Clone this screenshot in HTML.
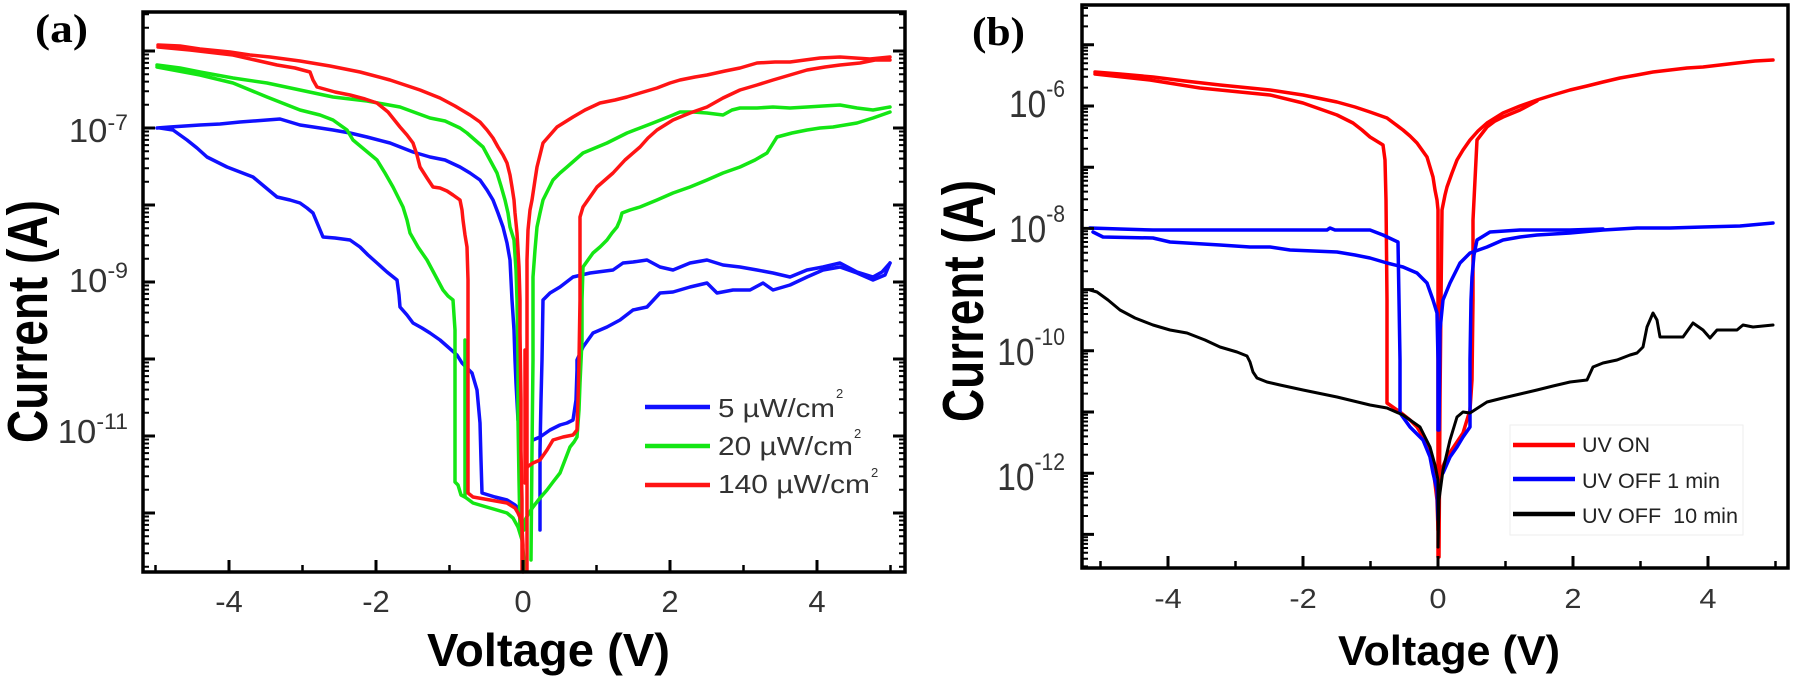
<!DOCTYPE html>
<html><head><meta charset="utf-8"><style>
html,body{margin:0;padding:0;background:#fff;}
svg{display:block;}
text{font-family:"Liberation Sans",Arial,sans-serif;}
</style></head><body>
<svg width="1816" height="684" viewBox="0 0 1816 684" xmlns="http://www.w3.org/2000/svg">
<rect width="1816" height="684" fill="#fff"/>

<!-- ================= PANEL A ================= -->
<g fill="none" stroke-linejoin="round" stroke-linecap="round">
<!-- blue -->
<g stroke="#1010ff" stroke-width="3.5">
<polyline points="157,128 170,127 185,126 200,125 220,124 240,122 267,120 280,119 300,125 320,128 333,130 350,133 367,137 390,143 413,152 430,157 445,160 460,167 470,173 480,180 487,190 493,200 498,213 503,227 507,243 510,260 511,280 512,300 514,330 515,360 516,383 518,420"/>
<polyline points="160,128 173,130 180,135 187,140 197,148 207,157 217,162 227,167 240,172 253,177 265,187 277,197 290,200 300,203 307,208 313,213 318,225 323,237 335,238 350,240 360,247 368,255 377,263 387,272 397,280 399,295 400,307 407,315 413,323 422,328 430,333 440,340 448,347 457,355 462,363 472,373 477,390 480,423 481,460 482,493 495,497 507,500 515,505 520,510"/>
<polyline points="540,530 540,450 541,400 542,360 543,300 550,293 560,287 573,277 590,273 613,270 623,263 633,262 647,260 660,267 673,270 690,263 707,260 723,265 740,267 757,270 773,273 790,277 807,270 823,267 840,263 857,272 873,277 882,272 890,263"/>
<polyline points="533,440 540,437 550,430 560,425 567,423 573,420 576,400 577,370 577,360 583,347 593,333 607,327 620,320 633,310 647,307 660,293 673,292 690,287 707,283 717,293 733,290 750,290 763,283 773,290 790,285 807,277 823,270 840,267 857,273 873,280 885,275 890,263"/>
<polyline points="517,340 518,383 520,430"/>
</g>
<!-- green -->
<g stroke="#14e614" stroke-width="3.5">
<polyline points="157,65 180,68 200,72 233,78 267,83 300,90 333,97 367,101 400,107 430,118 445,121 460,128 467,133 475,140 483,147 490,160 497,173 501,186 505,200 508,213 510,227 514,240 516,270 517,300 518,360 518,420 519,480 520,530"/>
<polyline points="157,67 200,75 233,83 267,97 300,110 320,115 333,120 347,130 353,140 365,150 377,160 385,173 393,187 398,197 403,207 407,220 410,233 418,247 427,260 435,275 443,290 448,296 453,300 455,330 455,360 455,420 455,482 458,485 461,495 465,497 473,503 490,508 507,513 513,518 518,527 522,540 525,570"/>
<polyline points="465,340 465,497"/>
<polyline points="531,560 532,450 533,360 533,300 533,277 535,250 537,227 540,213 543,200 548,190 553,180 560,173 567,167 575,160 583,153 595,148 607,143 617,138 627,133 640,128 653,123 663,119 673,115 680,112 693,112 707,113 715,114 723,115 732,110 740,108 757,108 773,107 790,108 807,107 823,106 840,105 857,108 873,110 890,107"/>
<polyline points="524,530 525,520 529,513 533,507 540,498 547,490 553,482 560,473 565,460 570,447 574,442 577,437 579,410 580,383 582,340 582,300 583,267 588,260 593,253 600,247 607,240 612,233 617,227 620,220 622,213 630,210 640,207 657,200 673,193 690,187 707,180 723,173 740,167 755,160 767,153 772,145 777,137 792,133 807,130 820,128 833,127 845,125 857,123 873,118 890,112"/>
</g>
<!-- red -->
<g stroke="#ff1414" stroke-width="3.5">
<polyline points="158,45 180,46 200,49 230,52 250,55 270,57 300,61 330,66 360,72 390,80 420,90 440,98 455,106 470,115 480,122 487,130 493,138 498,147 503,155 507,163 510,175 512,187 514,200 515,213 517,233 518,250 519,267 520,300 520,333 521,400 521,450 522,500 522,540 522,570"/>
<polyline points="527,570 527,480 527,400 527,333 527,260 528,230 530,210 532,200 535,180 537,167 540,155 543,143 550,135 557,127 565,122 573,117 585,110 600,103 615,100 627,97 640,93 657,88 670,83 680,80 695,77 707,75 725,71 740,68 757,63 775,62 790,62 805,60 820,58 840,57 855,58 870,59 890,57"/>
<polyline points="158,47 190,50 233,55 255,60 277,65 295,68 310,72 313,80 317,87 335,92 350,95 365,99 377,103 388,112 400,127 407,135 413,143 417,155 420,167 427,178 433,187 440,188 447,191 453,195 460,200 462,210 463,220 465,235 467,247 468,280 468,333 468,400 468,450 468,493 473,497 490,500 507,503 515,508 518,513 521,520 522,527 523,545 523,572"/>
<polyline points="525,350 525,483 527,467 533,463 540,460 547,450 553,440 563,437 573,435 577,430 578,400 579,360 580,300 580,217 583,207 590,197 597,187 605,180 613,173 625,160 640,147 648,138 657,130 665,125 673,120 690,113 707,107 723,98 740,90 757,85 773,80 790,75 807,70 825,67 840,65 860,63 875,60 890,60"/>
</g>
</g>

<!-- legend a -->
<g stroke-width="4.5">
<line x1="645" y1="407" x2="710" y2="407" stroke="#1010ff"/>
<line x1="645" y1="446" x2="710" y2="446" stroke="#14e614"/>
<line x1="645" y1="485" x2="710" y2="485" stroke="#ff1414"/>
</g>
<g fill="#333" font-size="26">
<text x="718" y="417" textLength="117" lengthAdjust="spacingAndGlyphs">5 µW/cm</text>
<text x="836" y="398" font-size="13">2</text>
<text x="718" y="455" textLength="135" lengthAdjust="spacingAndGlyphs">20 µW/cm</text>
<text x="854" y="438" font-size="13">2</text>
<text x="718" y="493" textLength="152" lengthAdjust="spacingAndGlyphs">140 µW/cm</text>
<text x="871" y="477" font-size="13">2</text>
</g>

<!-- frame a -->
<rect x="143" y="12" width="762" height="560" fill="none" stroke="#000" stroke-width="3.5"/>
<!-- y ticks a (left & right) -->
<path fill="none" stroke="#000" stroke-width="3" d="
M143 51h12M143 128h12M143 205h12M143 282h12M143 359h12M143 436h12M143 513h12
M905 51h-12M905 128h-12M905 205h-12M905 282h-12M905 359h-12M905 436h-12M905 513h-12"/>
<path fill="none" stroke="#000" stroke-width="2" d="
M143 566.8h6M143 553.3h6M143 543.6h6M143 536.2h6M143 530.1h6M143 524.9h6M143 520.5h6M143 516.5h6
M143 489.8h6M143 476.3h6M143 466.6h6M143 459.2h6M143 453.1h6M143 447.9h6M143 443.5h6M143 439.5h6
M143 412.8h6M143 399.3h6M143 389.6h6M143 382.2h6M143 376.1h6M143 370.9h6M143 366.5h6M143 362.5h6
M143 335.8h6M143 322.3h6M143 312.6h6M143 305.2h6M143 299.1h6M143 293.9h6M143 289.5h6M143 285.5h6
M143 258.8h6M143 245.3h6M143 235.6h6M143 228.2h6M143 222.1h6M143 216.9h6M143 212.5h6M143 208.5h6
M143 181.8h6M143 168.3h6M143 158.6h6M143 151.2h6M143 145.1h6M143 139.9h6M143 135.5h6M143 131.5h6
M143 104.8h6M143 91.3h6M143 81.6h6M143 74.2h6M143 68.1h6M143 62.9h6M143 58.5h6M143 54.5h6
M143 27.8h6M143 14.3h6
M905 566.8h-6M905 553.3h-6M905 543.6h-6M905 536.2h-6M905 530.1h-6M905 524.9h-6M905 520.5h-6M905 516.5h-6
M905 489.8h-6M905 476.3h-6M905 466.6h-6M905 459.2h-6M905 453.1h-6M905 447.9h-6M905 443.5h-6M905 439.5h-6
M905 412.8h-6M905 399.3h-6M905 389.6h-6M905 382.2h-6M905 376.1h-6M905 370.9h-6M905 366.5h-6M905 362.5h-6
M905 335.8h-6M905 322.3h-6M905 312.6h-6M905 305.2h-6M905 299.1h-6M905 293.9h-6M905 289.5h-6M905 285.5h-6
M905 258.8h-6M905 245.3h-6M905 235.6h-6M905 228.2h-6M905 222.1h-6M905 216.9h-6M905 212.5h-6M905 208.5h-6
M905 181.8h-6M905 168.3h-6M905 158.6h-6M905 151.2h-6M905 145.1h-6M905 139.9h-6M905 135.5h-6M905 131.5h-6
M905 104.8h-6M905 91.3h-6M905 81.6h-6M905 74.2h-6M905 68.1h-6M905 62.9h-6M905 58.5h-6M905 54.5h-6
M905 27.8h-6M905 14.3h-6"/>
<!-- x ticks a -->
<path fill="none" stroke="#000" stroke-width="3" d="M229 572v-12M376 572v-12M523 572v-12M670 572v-12M817 572v-12"/>
<path fill="none" stroke="#000" stroke-width="2.5" d="M155.5 572v-7M302.5 572v-7M449.5 572v-7M596.5 572v-7M743.5 572v-7M890.5 572v-7"/>

<!-- tick labels a -->
<g fill="#333" font-size="31" text-anchor="middle">
<text x="229" y="612">-4</text>
<text x="376" y="612">-2</text>
<text x="523" y="612">0</text>
<text x="670" y="612">2</text>
<text x="817" y="612">4</text>
</g>
<g fill="#333" text-anchor="end">
<text transform="translate(128,142) scale(1.05,1)" font-size="33">10<tspan font-size="22" dy="-12">-7</tspan></text>
<text transform="translate(128,292) scale(1.05,1)" font-size="33">10<tspan font-size="22" dy="-14">-9</tspan></text>
<text transform="translate(128,443) scale(1.05,1)" font-size="33">10<tspan font-size="22" dy="-14">-11</tspan></text>
</g>
<!-- axis titles a -->
<text x="427" y="666" font-size="46" font-weight="bold" textLength="243" lengthAdjust="spacingAndGlyphs" fill="#000">Voltage (V)</text>
<text transform="translate(47,443) rotate(-90) scale(1,1.22)" font-size="46" font-weight="bold" textLength="243" lengthAdjust="spacingAndGlyphs" fill="#000">Current (A)</text>
<text x="35" y="42" font-family="'Liberation Serif',serif" font-size="40" font-weight="bold" textLength="53" lengthAdjust="spacingAndGlyphs" fill="#000" style="font-family:'Liberation Serif',serif">(a)</text>

<!-- ================= PANEL B ================= -->
<g fill="none" stroke-linejoin="round" stroke-linecap="round">
<g stroke="#ff0000" stroke-width="3.5">
<polyline points="1095,72 1120,74 1153,77 1185,81 1220,85 1250,88 1270,90 1303,95 1337,102 1355,107 1370,112 1387,118 1395,124 1403,130 1410,136 1417,143 1422,150 1427,157 1430,167 1433,177 1435,190 1437,200 1438,210 1438,300 1438,400 1438,500 1438,557"/>
<polyline points="1095,74 1150,80 1200,88 1240,92 1270,95 1303,103 1320,109 1337,115 1353,123 1362,130 1370,137 1383,145 1385,160 1386,200 1387,300 1387,360 1387,403 1400,412 1410,420 1417,427 1425,440 1430,455 1434,475 1437,500 1438,530"/>
<polyline points="1439,557 1440,400 1441,300 1442,210 1445,195 1447,187 1452,173 1457,160 1463,150 1470,140 1478,131 1487,123 1495,118 1503,113 1520,106 1537,100 1553,95 1570,90 1587,86 1603,82 1620,78 1637,75 1653,72 1670,70 1687,68 1703,67 1720,65 1737,63 1755,61 1773,60"/>
<polyline points="1440,473 1447,457 1455,445 1463,433 1470,410 1472,380 1473,300 1473,220 1475,180 1477,140 1487,127 1495,121 1503,117 1520,110 1537,101"/>
</g>
<g stroke="#0000ff" stroke-width="3.5">
<polyline points="1090,228 1120,229 1153,230 1200,230 1250,230 1270,230 1300,230 1327,230 1330,228 1335,230 1370,230 1383,235 1398,242 1399,300 1400,360 1400,413 1410,427 1423,440 1430,457 1433,473 1437,490 1438,520"/>
<polyline points="1093,232 1103,237 1153,238 1170,242 1220,245 1250,247 1270,247 1290,250 1337,252 1355,255 1370,258 1387,263 1403,267 1417,273 1427,283 1433,300 1437,313 1438,360 1438,430"/>
<polyline points="1439,430 1440,330 1443,300 1450,283 1460,263 1470,253 1487,247 1503,240 1520,237 1537,235 1570,233 1603,230 1637,228 1670,228 1703,227 1740,226 1773,223"/>
<polyline points="1443,473 1450,457 1457,447 1463,437 1470,427 1470,360 1471,300 1472,277 1474,255 1477,240 1490,232 1520,230 1570,230 1603,229"/>
</g>
<g stroke="#000" stroke-width="3">
<polyline points="1090,290 1097,292 1108,300 1120,310 1135,318 1153,325 1170,330 1187,333 1205,340 1220,347 1237,352 1247,356 1250,362 1253,372 1257,378 1267,382 1280,385 1303,390 1337,397 1370,405 1387,408 1403,415 1420,427 1430,447 1435,465 1438,480 1438,547"/>
<polyline points="1438,547 1439,500 1441,485 1443,470 1450,440 1457,417 1463,412 1470,413 1487,402 1503,398 1520,394 1537,390 1553,386 1570,382 1587,380 1593,367 1603,363 1617,360 1630,355 1637,353 1643,347 1647,327 1653,313 1657,320 1660,337 1683,337 1693,323 1703,330 1710,338 1717,330 1737,330 1743,325 1753,327 1773,325"/>
</g>
</g>

<!-- legend b -->
<rect x="1510" y="425" width="233" height="110" fill="none" stroke="#eeeeee" stroke-width="1"/>
<g stroke-width="4.5">
<line x1="1513" y1="445" x2="1575" y2="445" stroke="#ff0000"/>
<line x1="1513" y1="479" x2="1575" y2="479" stroke="#0000ff"/>
<line x1="1513" y1="514" x2="1575" y2="514" stroke="#000"/>
</g>
<g fill="#222" font-size="21">
<text x="1582" y="452" textLength="68" lengthAdjust="spacingAndGlyphs">UV ON</text>
<text x="1582" y="488" textLength="138" lengthAdjust="spacingAndGlyphs">UV OFF 1 min</text>
<text x="1582" y="523" textLength="156" lengthAdjust="spacingAndGlyphs" xml:space="preserve">UV OFF  10 min</text>
</g>

<!-- frame b -->
<rect x="1082" y="5" width="706" height="563" fill="none" stroke="#000" stroke-width="3.5"/>
<path fill="none" stroke="#000" stroke-width="3" d="
M1082 44.8h12M1082 106h12M1082 167.2h12M1082 228.4h12M1082 289.6h12M1082 350.8h12M1082 412h12M1082 473.2h12M1082 534.4h12"/>
<path fill="none" stroke="#000" stroke-width="2" d="
M1082 566.4h6M1082 558.8h6M1082 552.8h6M1082 548h6M1082 543.9h6M1082 540.3h6M1082 537.2h6
M1082 516h6M1082 505.2h6M1082 497.6h6M1082 491.6h6M1082 486.8h6M1082 482.7h6M1082 479.1h6M1082 476h6
M1082 454.8h6M1082 444h6M1082 436.4h6M1082 430.4h6M1082 425.6h6M1082 421.5h6M1082 417.9h6M1082 414.8h6
M1082 393.6h6M1082 382.8h6M1082 375.2h6M1082 369.2h6M1082 364.4h6M1082 360.3h6M1082 356.7h6M1082 353.6h6
M1082 332.4h6M1082 321.6h6M1082 314h6M1082 308h6M1082 303.2h6M1082 299.1h6M1082 295.5h6M1082 292.4h6
M1082 271.2h6M1082 260.4h6M1082 252.8h6M1082 246.8h6M1082 242h6M1082 237.9h6M1082 234.3h6M1082 231.2h6
M1082 210h6M1082 199.2h6M1082 191.6h6M1082 185.6h6M1082 180.8h6M1082 176.7h6M1082 173.1h6M1082 170h6
M1082 148.8h6M1082 138h6M1082 130.4h6M1082 124.4h6M1082 119.6h6M1082 115.5h6M1082 111.9h6M1082 108.8h6
M1082 87.6h6M1082 76.8h6M1082 69.2h6M1082 63.2h6M1082 58.4h6M1082 54.3h6M1082 50.7h6M1082 47.6h6
M1082 26.4h6M1082 15.6h6M1082 8h6"/>
<path fill="none" stroke="#000" stroke-width="3" d="M1168 568v-12M1303 568v-12M1438 568v-12M1573 568v-12M1708 568v-12"/>
<path fill="none" stroke="#000" stroke-width="2.5" d="M1100.5 568v-7M1235.5 568v-7M1370.5 568v-7M1505.5 568v-7M1640.5 568v-7M1775.5 568v-7"/>

<!-- tick labels b -->
<g fill="#333" font-size="28" text-anchor="middle">
<text transform="translate(1168,608) scale(1.1,1)">-4</text>
<text transform="translate(1303,608) scale(1.1,1)">-2</text>
<text transform="translate(1438,608) scale(1.1,1)">0</text>
<text transform="translate(1573,608) scale(1.1,1)">2</text>
<text transform="translate(1708,608) scale(1.1,1)">4</text>
</g>
<g fill="#333" text-anchor="end">
<text transform="translate(1065,117) scale(0.88,1)" font-size="38">10<tspan font-size="24" dy="-20">-6</tspan></text>
<text transform="translate(1065,242) scale(0.88,1)" font-size="38">10<tspan font-size="24" dy="-20">-8</tspan></text>
<text transform="translate(1065,365) scale(0.88,1)" font-size="38">10<tspan font-size="24" dy="-20">-10</tspan></text>
<text transform="translate(1065,490) scale(0.88,1)" font-size="38">10<tspan font-size="24" dy="-20">-12</tspan></text>
</g>
<text x="1338" y="665" font-size="42" font-weight="bold" textLength="222" lengthAdjust="spacingAndGlyphs" fill="#000">Voltage (V)</text>
<text transform="translate(983,422) rotate(-90) scale(1,1.3)" font-size="44" font-weight="bold" textLength="242" lengthAdjust="spacingAndGlyphs" fill="#000">Current (A)</text>
<text x="972" y="45" font-size="40" font-weight="bold" textLength="53" lengthAdjust="spacingAndGlyphs" fill="#000" style="font-family:'Liberation Serif',serif">(b)</text>
</svg>
</body></html>
